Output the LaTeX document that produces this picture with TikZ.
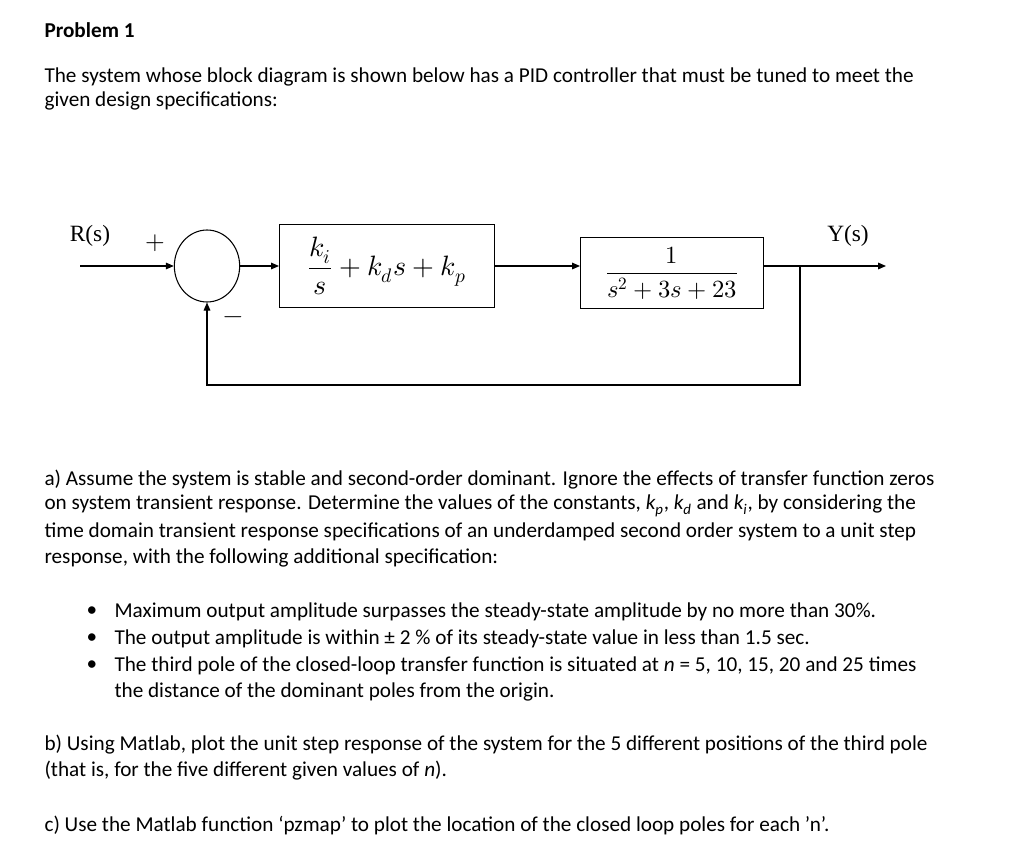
\documentclass[tikz,border=0pt]{standalone}
\usepackage{fontspec}
\setmainfont{Carlito}
\newfontfamily\timesf{Liberation Serif}
\usepackage{unicode-math}
\setmathfont{Latin Modern Math}
\usetikzlibrary{shapes.geometric,arrows.meta,positioning}
\tikzset{
  txt/.style={anchor=west, inner sep=0pt, font=\fontsize{15.9}{18}\selectfont},
  blk/.style={draw, minimum height=62pt, inner sep=2pt},
  sig/.style={font=\timesf\fontsize{17.5}{20}\selectfont, inner sep=0pt}
}
\begin{document}
\begin{tikzpicture}[x=0.75pt, y=-0.75pt, >={Triangle[length=6pt,width=5pt]}, line width=0.8pt]
  \useasboundingbox (0,0) rectangle (1024,863);

  % heading and problem text
  \node[txt, font=\bfseries\fontsize{15.9}{18}\selectfont] (title) at (44,30) {Problem 1};
  \node[txt] (p1) at (44,77) {The system whose block diagram is shown below has a PID controller that must be tuned to meet the};
  \node[txt] (p2) at (44,101) {given design specifications:};

  % block diagram
  \node[sig] (R) at (90,236) {R(s)};
  \node[sig] (Y) at (848,236) {Y(s)};
  \node[draw, ellipse, minimum width=49pt, minimum height=54pt, inner sep=0pt] (sum) at (207,266) {};
  \node[blk, minimum width=161pt, anchor=west, font=\fontsize{21}{24}\selectfont] (pid) at (279,266) {$\dfrac{k_i}{s}+k_d s+k_p$};
  \node[blk, minimum width=137pt, minimum height=53pt, anchor=west, font=\fontsize{18.5}{21}\selectfont] (plant) at (580,273) {$\dfrac{1}{s^2+3s+23}$};
  \node[font=\fontsize{19}{21}\selectfont] (plus) at (155,243) {$+$};
  \node[font=\fontsize{19}{21}\selectfont] (minus) at (233,320) {$-$};
  \coordinate (in) at (80,266);
  \coordinate (out) at (886,266);
  \coordinate (tap) at (800,266);
  \coordinate (fb1) at (800,385);
  \coordinate (fb2) at (207,385);

  \draw[->] (in) -- (sum.west);
  \draw[->] (sum.east) -- (pid.west);
  \draw[->] (pid.east) -- (pid.east -| plant.west);
  \draw[->] (plant.east |- out) -- (out);
  \draw[->] (tap) -- (fb1) -- (fb2) -- (sum.south);

  % part a)
  \node[txt] (a1) at (44,480) {a) Assume the system is stable and second-order dominant. Ignore the effects of transfer function zeros};
  \node[txt] (a2) at (44,506) {on system transient response. Determine the values of the constants, \textit{k\textsubscript{p}}, \textit{k\textsubscript{d}} and \textit{k\textsubscript{i}}, by considering the};
  \node[txt] (a3) at (44,532) {time domain transient response specifications of an underdamped second order system to a unit step};
  \node[txt] (a4) at (44,558) {response, with the following additional specification:};

  \foreach \yy in {612,639,666}
    \node[txt] at (86,\yy) {\textbullet};
  \node[txt] (b1) at (114,612) {Maximum output amplitude surpasses the steady-state amplitude by no more than 30\%.};
  \node[txt] (b2) at (114,639) {The output amplitude is within ± 2 \% of its steady-state value in less than 1.5 sec.};
  \node[txt] (b3) at (114,666) {The third pole of the closed-loop transfer function is situated at \textit{n} = 5, 10, 15, 20 and 25 times};
  \node[txt] (b4) at (114,692) {the distance of the dominant poles from the origin.};

  % parts b) and c)
  \node[txt] (c1) at (44,745) {b) Using Matlab, plot the unit step response of the system for the 5 different positions of the third pole};
  \node[txt] (c2) at (44,771) {(that is, for the five different given values of \textit{n}).};
  \node[txt] (d1) at (44,825) {c) Use the Matlab function ‘pzmap’ to plot the location of the closed loop poles for each 'n'.};
\end{tikzpicture}
\end{document}
